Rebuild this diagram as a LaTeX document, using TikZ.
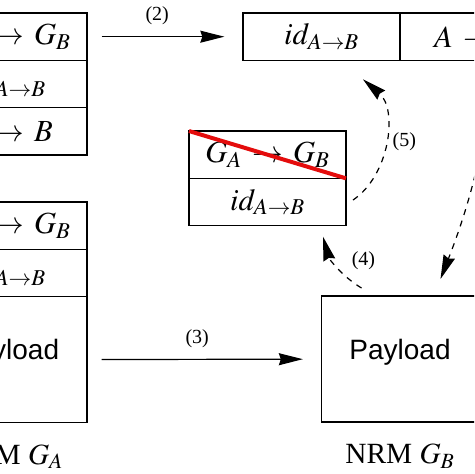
\documentclass[tikz,border=0pt]{standalone}
\usepackage{mathptmx}
\usepackage{fontspec}
\setmainfont{Liberation Serif}
\setsansfont{Liberation Sans}
\usetikzlibrary{arrows.meta, positioning, calc}
\definecolor{strikered}{RGB}{228,12,12}

\begin{document}
\begin{tikzpicture}[x=0.75pt, y=-0.75pt,
            cell/.style={draw, line width=1pt, minimum width=117.75pt, minimum height=35.5pt,
                inner sep=0pt, outer sep=0pt, font=\fontsize{23}{27}\selectfont},
            paycell/.style={cell, minimum height=94.5pt, text height=15pt, text depth=15pt,
                font=\fontsize{21}{25}\sffamily},
            nrm/.style={font=\fontsize{22}{26}\selectfont},
            numlbl/.style={font=\fontsize{15}{17}\selectfont},
            flow/.style={->, line width=0.9pt},
            dflow/.style={->, line width=0.9pt, dash pattern=on 4.5pt off 4.5pt},
            >={Stealth[length=18pt, width=9pt, inset=1.5pt]}]

        \useasboundingbox (0,0) rectangle (474,474);
        \clip (0,0) rectangle (474,474);

        % NRM G_A, upper table
        \node[cell] (aA) at (8.5,36.7) {$G_A \,\to\, G_B$};
        \node[cell, below=0pt of aA] (aB) {$id_{A\to B}$};
        \node[cell, below=0pt of aB] (aC) {$A \,\to\, B$};

        % NRM G_A, packet
        \node[cell] (aD) at (8.5,225.7) {$G_A \,\to\, G_B$};
        \node[cell, below=0pt of aD] (aE) {$id_{A\to B}$};
        \node[paycell, below=0pt of aE] (aPay) {Payload};
        \node[nrm, below=13pt of aPay] (aName) {NRM $G_A$};

        % table entry sent back
        \node[cell] (t1) at (321.5,36.7) {$id_{A\to B}$};
        \node[cell, right=0pt of t1] (t2) {$A \,\to\, B$};

        % stripped header
        \node[cell] (m1) at (267.5,154.7) {$G_A \,\to\, G_B$};
        \node[cell, below=0pt of m1] (m2) {$id_{A\to B}$};
        \draw[strikered, line width=3pt] (m1.north west) -- (m1.south east);

        % NRM G_B
        \node[paycell] (bPay) at (400,359) {Payload};
        \node[nrm, below=13pt of bPay] (bName) {NRM $G_B$};

        \draw[flow, shorten <=11pt, shorten >=14pt] (aA) -- node[numlbl, above=5pt, pos=0.45] {(2)} (t1);
        \draw[flow, shorten <=11pt, shorten >=14pt] (aPay) -- node[numlbl, above=5pt, pos=0.47] {(3)} (bPay);

        \draw[dflow] ($(bPay.north west)+(40,-8)$) .. controls ($(bPay.north west)+(20,-20)$) and ($(m2.south east)+(-17,33)$) .. node[numlbl, pos=0.6, right=10pt] {(4)} ($(m2.south east)+(-23,11)$);
        \draw[dflow] ($(m2.east)+(7,-2)$) .. controls ($(m2.east)+(44,-27)$) and ($(t1.south east)+(-2,49)$) .. node[numlbl, pos=0.5, right=2pt] {(5)} ($(t1.south east)+(-37,19)$);
        \draw[dflow] ($(t2.south)+(6.5,19)$) .. controls ($(t2.south)+(11.5,79)$) and ($(bPay.north west)+(144,-81)$) .. ($(bPay.north west)+(119,-17)$);

    \end{tikzpicture}
\end{document}
